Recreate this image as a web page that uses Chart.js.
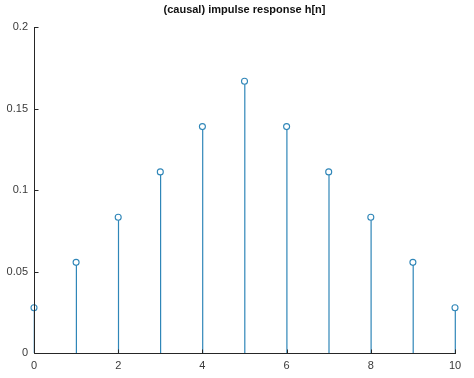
<!DOCTYPE html>
<html>
<head>
<meta charset="utf-8">
<script src="https://cdn.jsdelivr.net/npm/chart.js@4/dist/chart.umd.min.js"></script>
<style>
html,body{margin:0;padding:0;background:#fff;}
#wrap{width:474px;height:378px;}
</style>
</head>
<body>
<div id="wrap"><canvas id="c" width="474" height="378"></canvas></div>
<script>
const titleText = "(causal) impulse response h[n]";
const nValues = [0,1,2,3,4,5,6,7,8,9,10];
const hValues = [0.0278,0.0556,0.0833,0.1111,0.1389,0.1667,0.1389,0.1111,0.0833,0.0556,0.0278];
const xTicks = [0,2,4,6,8,10];
const yTicks = [0,0.05,0.1,0.15,0.2];

const stemColor = "#2f86b8";
const axisColor = "#262626";
const fontFam = "'Liberation Sans', Arial, sans-serif";

const stemPlugin = {
  id: "stems",
  beforeDatasetsDraw(chart) {
    const ctx = chart.ctx, xs = chart.scales.x, ys = chart.scales.y;
    ctx.save();
    ctx.strokeStyle = stemColor;
    ctx.lineWidth = 1.2;
    const y0 = ys.getPixelForValue(0);
    nValues.forEach((n, i) => {
      const px = xs.getPixelForValue(n) + 0.3;
      const py = ys.getPixelForValue(hValues[i]) + 3;
      ctx.beginPath();
      ctx.moveTo(px, y0);
      ctx.lineTo(px, py);
      ctx.stroke();
    });
    ctx.restore();
  },
  afterDraw(chart) {
    const ctx = chart.ctx, xs = chart.scales.x, ys = chart.scales.y;
    const a = chart.chartArea;
    ctx.save();
    ctx.strokeStyle = axisColor;
    ctx.lineWidth = 1;
    ctx.beginPath();
    const left = Math.round(a.left) + 0.5, bottom = Math.round(a.bottom) + 0.5;
    ctx.moveTo(left, Math.round(a.top));
    ctx.lineTo(left, bottom);
    ctx.lineTo(Math.round(a.right) + 1, bottom);
    yTicks.forEach(v => {
      const py = Math.round(ys.getPixelForValue(v)) + 0.5;
      ctx.moveTo(left, py); ctx.lineTo(left + 4, py);
    });
    xTicks.forEach(v => {
      const px = Math.round(xs.getPixelForValue(v)) + 0.5;
      ctx.moveTo(px, bottom); ctx.lineTo(px, bottom - 4);
    });
    ctx.stroke();
    // title centred over the plot area
    ctx.fillStyle = "#111";
    ctx.font = "bold 11px " + fontFam;
    ctx.textAlign = "center";
    ctx.textBaseline = "middle";
    ctx.fillText(titleText, (a.left + a.right) / 2, 10);
    ctx.restore();
  }
};

new Chart(document.getElementById("c"), {
  type: "scatter",
  data: {
    datasets: [{
      data: nValues.map((n, i) => ({x: n, y: hValues[i]})),
      showLine: false,
      pointStyle: "circle",
      pointRadius: 3,
      pointHoverRadius: 3,
      pointBorderWidth: 1.1,
      pointBorderColor: stemColor,
      pointBackgroundColor: "rgba(0,0,0,0)",
      clip: false
    }]
  },
  options: {
    responsive: false,
    animation: false,
    events: [],
    layout: {padding: {left: 0, right: 19, top: 27, bottom: 0}},
    plugins: {
      legend: {display: false},
      tooltip: {enabled: false},
      title: {display: false}
    },
    scales: {
      x: {
        type: "linear",
        min: 0, max: 10,
        afterBuildTicks(s) { s.ticks = xTicks.map(v => ({value: v})); },
        afterFit(s) { s.height = 25; },
        border: {display: false},
        grid: {display: false, drawTicks: false},
        ticks: {
          color: "#3a3a3a",
          padding: 6,
          maxRotation: 0,
          font: {family: fontFam, size: 11},
          callback: v => String(v)
        }
      },
      y: {
        type: "linear",
        min: 0, max: 0.2,
        afterBuildTicks(s) { s.ticks = yTicks.map(v => ({value: v})); },
        afterFit(s) { s.width = 34; },
        border: {display: false},
        grid: {display: false, drawTicks: false},
        ticks: {
          color: "#3a3a3a",
          padding: 6,
          font: {family: fontFam, size: 11},
          callback: v => String(Math.round(v * 100) / 100)
        }
      }
    }
  },
  plugins: [stemPlugin]
});
</script>
</body>
</html>
